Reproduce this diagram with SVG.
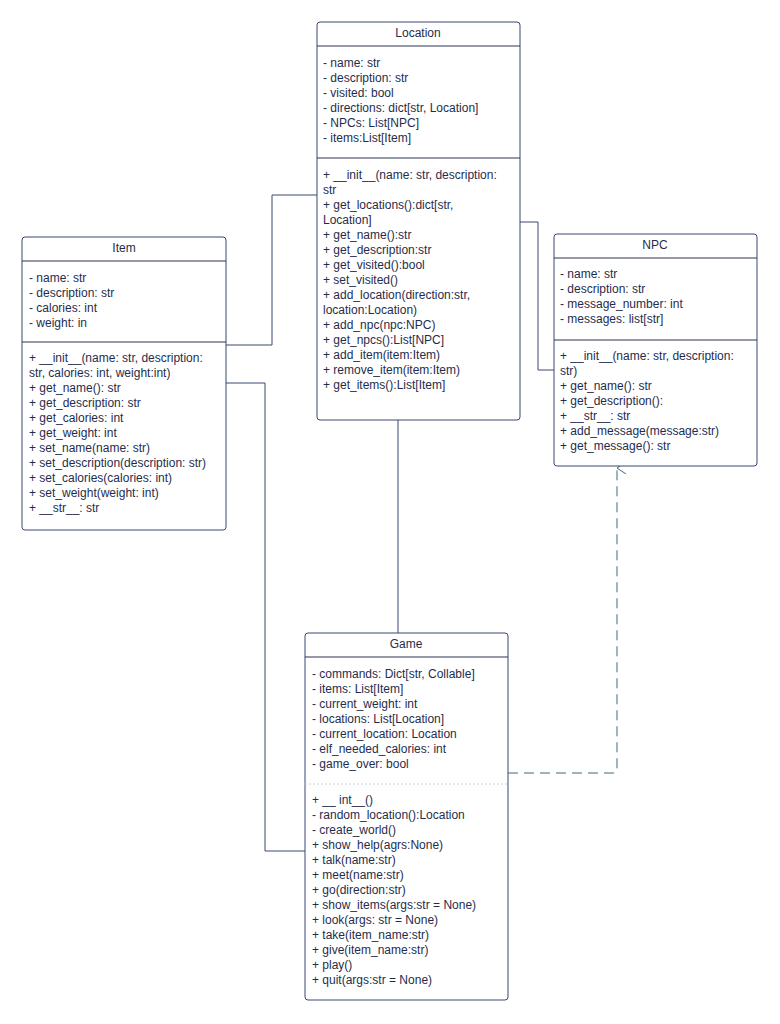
<svg xmlns="http://www.w3.org/2000/svg" width="780" height="1024" viewBox="0 0 780 1024">
<style>
text{font-family:"Liberation Sans",Arial,sans-serif;font-size:12px;fill:#1f2d4d}
.t{text-anchor:middle}
.box{fill:#fff;stroke:#3a4670;stroke-width:1}
.div{stroke:#2b3350;stroke-width:1}
.dd{stroke:#c8d0dc;stroke-width:1;stroke-dasharray:2 2}
.c{fill:none;stroke:#3a4670;stroke-width:1}
</style>
<defs><marker id="a" markerWidth="12" markerHeight="12" refX="6" refY="1" orient="auto" markerUnits="userSpaceOnUse"><path d="M0,10 L6,1 L12,10" fill="none" stroke="#3f6b7a"/></marker></defs>
<rect width="780" height="1024" fill="#fff"/>
<g id="connectors">
<path class="c" d="M226,345 H272 V195 H317"/>
<path class="c" d="M520,222 H538 V370 H554"/>
<path class="c" d="M398,420 V633"/>
<path class="c" d="M226,383 H265 V851 H305"/>
<path d="M508,773 H613 Q617,773 617,769 V468" fill="none" stroke="#3f6b7a" stroke-dasharray="10 6" marker-end="url(#a)"/>
</g>
<g id="Location">
<rect class="box" x="317" y="22" width="203" height="398" rx="3"/>
<text class="t" x="418" y="37">Location</text>
<line class="div" x1="317" y1="46" x2="520" y2="46"/>
<text x="323" y="67">- name: str</text><text x="323" y="82">- description: str</text><text x="323" y="97">- visited: bool</text><text x="323" y="112">- directions: dict[str, Location]</text><text x="323" y="127">- NPCs: List[NPC]</text><text x="323" y="142">- items:List[Item]</text>
<line class="div" x1="317" y1="158" x2="520" y2="158"/>
<text x="323" y="179">+ __init__(name: str, description:</text><text x="323" y="194">str</text><text x="323" y="209">+ get_locations():dict[str,</text><text x="323" y="224">Location]</text><text x="323" y="239">+ get_name():str</text><text x="323" y="254">+ get_description:str</text><text x="323" y="269">+ get_visited():bool</text><text x="323" y="284">+ set_visited()</text><text x="323" y="299">+ add_location(direction:str,</text><text x="323" y="314">location:Location)</text><text x="323" y="329">+ add_npc(npc:NPC)</text><text x="323" y="344">+ get_npcs():List[NPC]</text><text x="323" y="359">+ add_item(item:Item)</text><text x="323" y="374">+ remove_item(item:Item)</text><text x="323" y="389">+ get_items():List[Item]</text>
</g>
<g id="Item">
<rect class="box" x="22" y="237" width="204" height="293" rx="3"/>
<text class="t" x="124" y="252">Item</text>
<line class="div" x1="22" y1="261" x2="226" y2="261"/>
<text x="29" y="282">- name: str</text><text x="29" y="297">- description: str</text><text x="29" y="312">- calories: int</text><text x="29" y="327">- weight: in</text>
<line class="div" x1="22" y1="342" x2="226" y2="342"/>
<text x="29" y="362">+ __init__(name: str, description:</text><text x="29" y="377">str, calories: int, weight:int)</text><text x="29" y="392">+ get_name(): str</text><text x="29" y="407">+ get_description: str</text><text x="29" y="422">+ get_calories: int</text><text x="29" y="437">+ get_weight: int</text><text x="29" y="452">+ set_name(name: str)</text><text x="29" y="467">+ set_description(description: str)</text><text x="29" y="482">+ set_calories(calories: int)</text><text x="29" y="497">+ set_weight(weight: int)</text><text x="29" y="512">+ __str__: str</text>
</g>
<g id="NPC">
<rect class="box" x="554" y="234" width="203" height="232" rx="3"/>
<text class="t" x="655" y="249">NPC</text>
<line class="div" x1="554" y1="258" x2="757" y2="258"/>
<text x="560" y="278">- name: str</text><text x="560" y="293">- description: str</text><text x="560" y="308">- message_number: int</text><text x="560" y="323">- messages: list[str]</text>
<line class="div" x1="554" y1="340" x2="757" y2="340"/>
<text x="560" y="360">+ __init__(name: str, description:</text><text x="560" y="375">str)</text><text x="560" y="390">+ get_name(): str</text><text x="560" y="405">+ get_description():</text><text x="560" y="420">+ __str__: str</text><text x="560" y="435">+ add_message(message:str)</text><text x="560" y="450">+ get_message(): str</text>
</g>
<g id="Game">
<rect class="box" x="305" y="633" width="203" height="367" rx="3"/>
<text class="t" x="406" y="648">Game</text>
<line class="div" x1="305" y1="657" x2="508" y2="657"/>
<text x="312" y="678">- commands: Dict[str, Collable]</text><text x="312" y="693">- items: List[Item]</text><text x="312" y="708">- current_weight: int</text><text x="312" y="723">- locations: List[Location]</text><text x="312" y="738">- current_location: Location</text><text x="312" y="753">- elf_needed_calories: int</text><text x="312" y="768">- game_over: bool</text>
<line class="dd" x1="305" y1="784" x2="508" y2="784"/>
<text x="312" y="804">+ __ int__()</text><text x="312" y="819">- random_location():Location</text><text x="312" y="834">- create_world()</text><text x="312" y="849">+ show_help(agrs:None)</text><text x="312" y="864">+ talk(name:str)</text><text x="312" y="879">+ meet(name:str)</text><text x="312" y="894">+ go(direction:str)</text><text x="312" y="909">+ show_items(args:str = None)</text><text x="312" y="924">+ look(args: str = None)</text><text x="312" y="939">+ take(item_name:str)</text><text x="312" y="954">+ give(item_name:str)</text><text x="312" y="969">+ play()</text><text x="312" y="984">+ quit(args:str = None)</text>
</g>
</svg>
